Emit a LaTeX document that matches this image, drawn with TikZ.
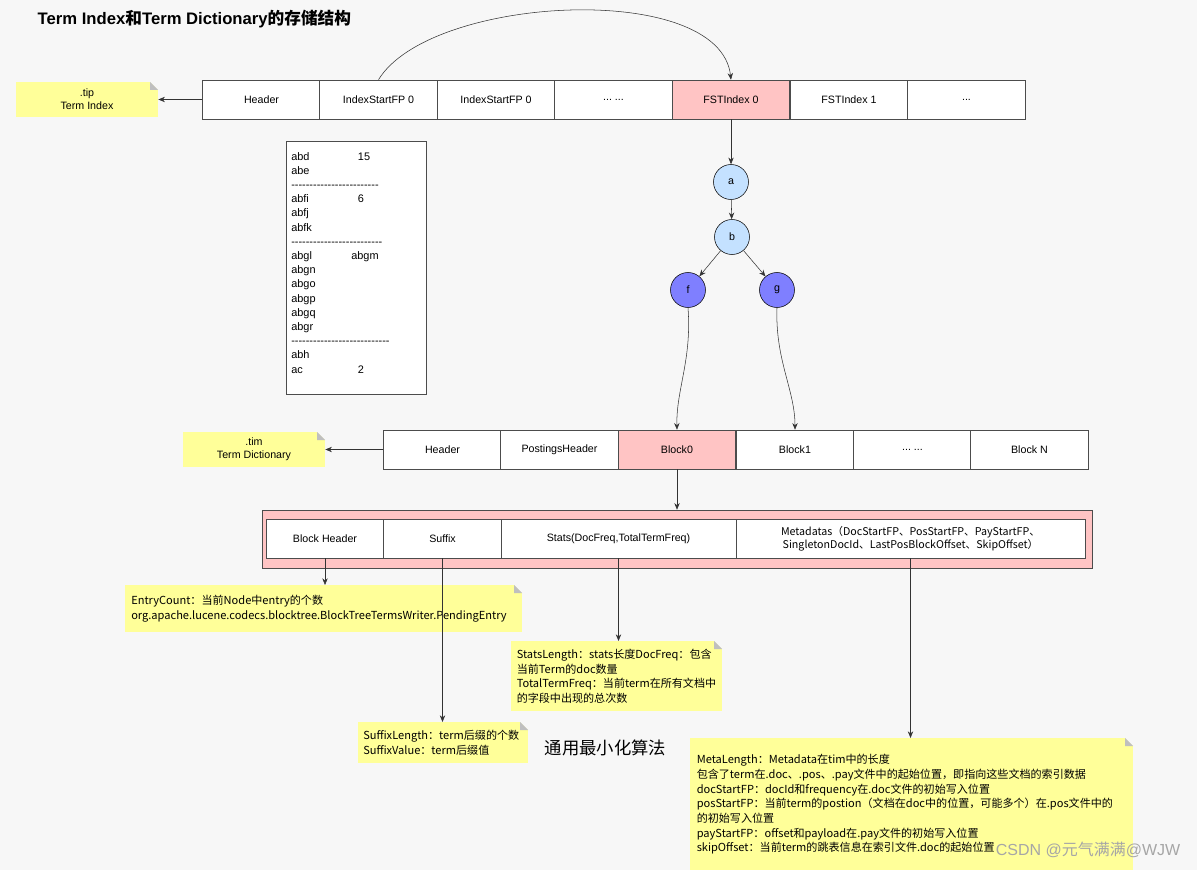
\documentclass[tikz,border=0pt]{standalone}
\usepackage{fontspec}
\setmainfont{Liberation Sans}
\setsansfont{Liberation Sans}
\newfontfamily\cjk{Noto Sans CJK SC}
\usetikzlibrary{arrows.meta}
\definecolor{bg}{HTML}{F7F7F7}
\definecolor{pinkc}{HTML}{FFC4C4}
\definecolor{notey}{HTML}{FFFF99}
\definecolor{lblue}{HTML}{C4E1FF}
\definecolor{dblue}{HTML}{7F7FFF}
\newcount\myhyc
\newcommand\dashline[1]{\myhyc=0 \loop\ifnum\myhyc<#1 -\kern0pt\advance\myhyc by1 \repeat}
\begin{document}
\begin{tikzpicture}[x=0.75pt,y=-0.75pt,
  cell/.style={draw=black!70,fill=white,minimum width={117.5*0.75pt},minimum height={39*0.75pt},inner sep=0pt,font=\fontsize{8}{10}\selectfont},
  pcell/.style={cell,fill=pinkc},
  note/.style={fill=notey,inner sep=3pt,align=left,font=\cjk\fontsize{8.3}{11}\selectfont},
  arr/.style={draw=black!80,-{Stealth[length=5pt,width=4pt]}},
  tnode/.style={circle,draw=black,minimum size={35*0.75pt},inner sep=0pt,font=\fontsize{8}{10}\selectfont},
]
\fill[bg] (0,0) rectangle (1197,870);
\useasboundingbox (0,0) rectangle (1197,870);
\node[anchor=west,font=\bfseries\fontsize{12.5}{14}\selectfont] (title) at (33,19) {Term Index{\cjk 和}Term Dictionary{\cjk 的存储结构}};

% top row
\node[cell] (h1) at (261.5,99.5) {Header};
\node[cell] (ifp) at (378.5,99.5) {IndexStartFP 0};
\node[cell] (ifp2) at (496,99.5) {IndexStartFP 0};
\node[cell] (d1) at (613.5,99.5) {.\kern0pt.\kern0pt.\ .\kern0pt.\kern0pt.};
\node[pcell] (fst) at (731,99.5) {FSTIndex 0};
\node[cell] (fst1) at (849,99.5) {FSTIndex 1};
\node[cell] (d2) at (966.5,99.5) {.\kern0pt.\kern0pt.};

% tip note
\node[note,align=center,font=\fontsize{8}{10}\selectfont,minimum width={142*0.75pt},minimum height={35*0.75pt}] (tip) at (87,99.5) {.tip\\Term Index};
\fill[bg] (150,82) -- (158,82) -- (158,90) -- cycle;
\fill[black!25] (150,82) -- (158,90) -- (150,90) -- cycle;
\draw[arr] (h1.west) -- (tip.east);

\draw[arr] (ifp.north) .. controls (430,-5) and (720,-20) .. (fst.north);

% list box
\node[draw=black!70,fill=white,anchor=north west,minimum width={140*0.75pt},minimum height={253*0.75pt},inner sep=0pt] (list) at (286,141) {};
\node[anchor=north west,align=left,inner sep=0pt,font=\fontsize{8.2}{10.65}\selectfont] (listtxt) at (291,152) {%
\makebox[50pt][l]{abd}15\\abe\\\dashline{24}\\\makebox[50pt][l]{abfi}6\\abfj\\abfk\\\dashline{25}\\\makebox[45pt][l]{abgl}abgm\\abgn\\abgo\\abgp\\abgq\\abgr\\\dashline{27}\\abh\\\makebox[50pt][l]{ac}2};

% tree
\node[tnode,fill=lblue] (a) at (731,182) {a};
\node[tnode,fill=lblue] (b) at (732,237) {b};
\node[tnode,fill=dblue] (f) at (688,290) {f};
\node[tnode,fill=dblue] (g) at (777,290) {g};
\draw[arr] (fst.south) -- (a);
\draw[arr] (a) -- (b);
\draw[arr] (b) -- (f);
\draw[arr] (b) -- (g);

% second row
\node[cell] (h2) at (442.5,449.5) {Header};
\node[cell] (ph) at (559.5,449.5) {PostingsHeader};
\node[pcell] (b0) at (677,449.5) {Block0};
\node[cell] (b1) at (795,449.5) {Block1};
\node[cell] (d3) at (912.5,449.5) {.\kern0pt.\kern0pt.\ .\kern0pt.\kern0pt.};
\node[cell] (bn) at (1029.5,449.5) {Block N};
\draw[arr] (f.south) .. controls (692,360) and (676,390) .. (b0.north);
\draw[arr] (g.south) .. controls (775,360) and (795,390) .. (b1.north);

\node[note,align=center,font=\fontsize{8}{10}\selectfont,minimum width={142*0.75pt},minimum height={35*0.75pt}] (tim) at (254,449.5) {.tim\\Term Dictionary};
\fill[bg] (317,432) -- (325,432) -- (325,440) -- cycle;
\fill[black!25] (317,432) -- (325,440) -- (317,440) -- cycle;
\draw[arr] (h2.west) -- (tim.east);

% block detail
\node[draw=black!70,fill=pinkc,minimum width={830*0.75pt},minimum height={58*0.75pt},inner sep=0pt] (blk) at (677,539) {};
\draw[arr] (b0.south) -- (blk.north);
\node[cell,minimum width={118*0.75pt}] (bh) at (325,538.5) {Block Header};
\node[cell] (sf) at (442.5,538.5) {Suffix};
\node[cell,minimum width={235*0.75pt}] (st) at (618.5,538.5) {Stats(DocFreq,TotalTermFreq)};
\node[cell,minimum width={349*0.75pt},align=center,font=\cjk\fontsize{8}{10}\selectfont] (md) at (910.5,538.5) {Metadatas（DocStartFP、PosStartFP、PayStartFP、\\SingletonDocId、LastPosBlockOffset、SkipOffset）};

% notes
\node[note,anchor=north west,minimum width={397*0.75pt},minimum height={47*0.75pt},text width={385*0.75pt}] (n1) at (125,585) {EntryCount：当前Node中entry的个数\\org.apache.lucene.codecs.blocktree.BlockTreeTermsWriter.PendingEntry};
\fill[bg] (514,585) -- (522,585) -- (522,593) -- cycle;
\fill[black!25] (514,585) -- (522,593) -- (514,593) -- cycle;

\node[note,anchor=north west,minimum width={211*0.75pt},minimum height={70*0.75pt},text width={200*0.75pt}] (n3) at (511,641) {StatsLength：stats长度DocFreq：包含\\当前Term的doc数量\\TotalTermFreq：当前term在所有文档中\\的字段中出现的总次数};
\fill[bg] (714,641) -- (722,641) -- (722,649) -- cycle;
\fill[black!25] (714,641) -- (722,649) -- (714,649) -- cycle;

\node[note,anchor=north west,minimum width={170*0.75pt},minimum height={41*0.75pt},text width={160*0.75pt}] (n2) at (358,722) {SuffixLength：term后缀的个数\\SuffixValue：term后缀值};
\fill[bg] (520,722) -- (528,722) -- (528,730) -- cycle;
\fill[black!25] (520,722) -- (528,730) -- (520,730) -- cycle;

\node[note,anchor=north west,minimum width={443*0.75pt},minimum height={132*0.75pt},text width={430*0.75pt}] (n4) at (690,738) {MetaLength：Metadata在tim中的长度\\包含了term在.doc、.pos、.pay文件中的起始位置，即指向这些文档的索引数据\\docStartFP：docId和frequency在.doc文件的初始写入位置\\posStartFP：当前term的postion（文档在doc中的位置，可能多个）在.pos文件中的\\的初始写入位置\\payStartFP：offset和payload在.pay文件的初始写入位置\\skipOffset：当前term的跳表信息在索引文件.doc的起始位置};
\fill[bg] (1125,738) -- (1133,738) -- (1133,746) -- cycle;
\fill[black!25] (1125,738) -- (1133,746) -- (1125,746) -- cycle;

\draw[arr] (bh.south) -- (bh.south |- n1.north);
\draw[arr] (sf.south) -- (sf.south |- n2.north);
\draw[arr] (st.south) -- (st.south |- n3.north);
\draw[arr] (md.south) -- (md.south |- n4.north);

\node[anchor=west,font=\cjk\fontsize{13}{15}\selectfont] (algo) at (540,748) {通用最小化算法};
\node[anchor=east,text=black!35,font=\fontsize{12}{14}\selectfont] (wm) at (1185,850) {CSDN @{\cjk 元气满满}@WJW};
\end{tikzpicture}
\end{document}
